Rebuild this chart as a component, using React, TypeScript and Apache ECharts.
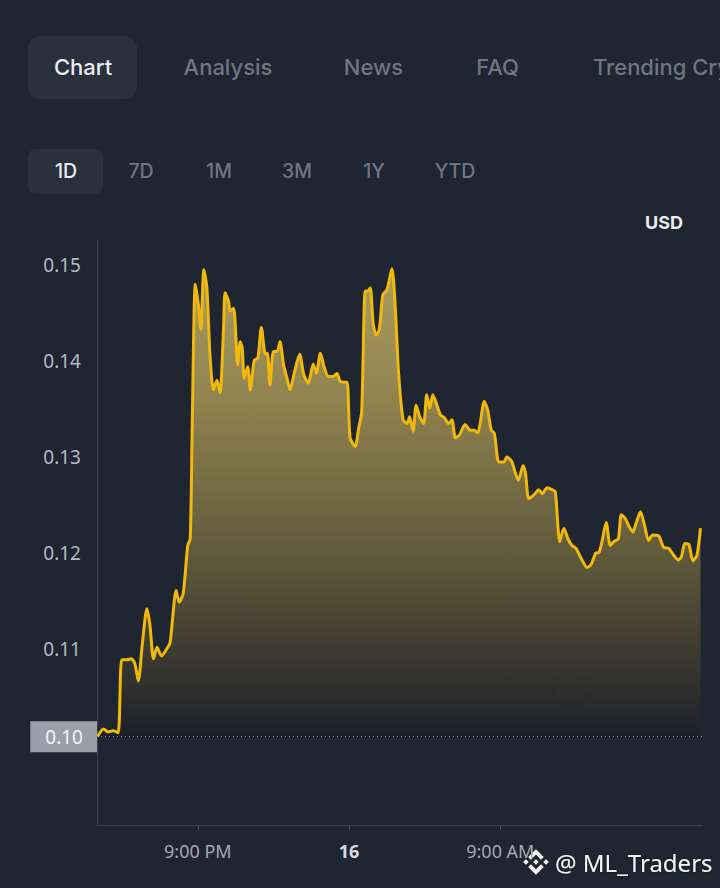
import React, { useEffect, useRef } from "react";
import * as echarts from "echarts";

// ---- data (hours from chart start, price in USD) ----
const times: number[] = [
  0.01, 0.13, 0.22, 0.32, 0.42, 0.49, 0.59, 0.68, 0.75, 0.82, 0.9, 0.99, 1.05, 1.12, 1.19, 1.28, 1.38, 1.45,
  1.57, 1.63, 1.71, 1.8, 1.85, 1.89, 1.95, 2.01, 2.06, 2.12, 2.18, 2.24, 2.31, 2.38, 2.44, 2.51, 2.54, 2.61,
  2.64, 2.71, 2.79, 2.84, 2.88, 2.92, 2.99, 3.04, 3.12, 3.19, 3.26, 3.34, 3.38, 3.43, 3.5, 3.57, 3.63, 3.7,
  3.77, 3.83, 3.91, 4.02, 4.1, 4.19, 4.29, 4.35, 4.43, 4.51, 4.59, 4.68, 4.76, 4.82, 4.89, 4.96, 5.02, 5.12,
  5.19, 5.25, 5.32, 5.37, 5.42, 5.48, 5.54, 5.6, 5.67, 5.75, 5.85, 5.92, 5.98, 6.07, 6.15, 6.2, 6.27, 6.33,
  6.4, 6.48, 6.54, 6.6, 6.66, 6.73, 6.81, 6.89, 6.97, 7.04, 7.11, 7.19, 7.3, 7.4, 7.48, 7.55, 7.6, 7.68,
  7.75, 7.82, 7.88, 7.97, 8.07, 8.13, 8.23, 8.3, 8.36, 8.45, 8.5, 8.56, 8.63, 8.69, 8.76, 8.83, 8.93, 9.03,
  9.09, 9.18, 9.26, 9.34, 9.42, 9.5, 9.62, 9.72, 9.81, 9.89, 9.96, 10.02, 10.1, 10.18, 10.25, 10.34, 10.4,
  10.48, 10.55, 10.63, 10.68, 10.78, 10.86, 10.94, 11.02, 11.14, 11.24, 11.34, 11.41, 11.53, 11.59, 11.66,
  11.74, 11.82, 11.9, 11.97,
];
const prices: number[] = [
  0.1009, 0.1017, 0.1014, 0.1015, 0.1013, 0.1089, 0.1089, 0.109, 0.1085, 0.1067, 0.1106, 0.1142, 0.1125,
  0.109, 0.1102, 0.1093, 0.11, 0.1107, 0.1161, 0.1149, 0.1158, 0.1208, 0.1215, 0.1337, 0.148, 0.1459,
  0.1433, 0.1495, 0.1476, 0.1407, 0.137, 0.138, 0.1367, 0.1434, 0.1471, 0.1462, 0.1452, 0.1455, 0.1396,
  0.142, 0.1414, 0.1382, 0.1394, 0.137, 0.1401, 0.1403, 0.1435, 0.1407, 0.1408, 0.1375, 0.141, 0.141,
  0.142, 0.1396, 0.1382, 0.137, 0.1387, 0.1407, 0.1386, 0.1377, 0.1397, 0.1387, 0.1408, 0.1393, 0.1384,
  0.1384, 0.1387, 0.1379, 0.1378, 0.1378, 0.132, 0.1311, 0.133, 0.1347, 0.1473, 0.1473, 0.1476, 0.1438,
  0.1427, 0.1433, 0.1469, 0.1474, 0.1496, 0.1452, 0.1389, 0.1339, 0.1335, 0.1342, 0.1327, 0.1354, 0.1342,
  0.1335, 0.1365, 0.1351, 0.1365, 0.1356, 0.1344, 0.1341, 0.1335, 0.1339, 0.132, 0.1323, 0.1334, 0.1328,
  0.1328, 0.1325, 0.1335, 0.1358, 0.1349, 0.1328, 0.1325, 0.1295, 0.1295, 0.13, 0.1295, 0.1283, 0.1276,
  0.1291, 0.1283, 0.1257, 0.1259, 0.1262, 0.1266, 0.1262, 0.1268, 0.1266, 0.1264, 0.1212, 0.1226, 0.1215,
  0.1208, 0.1205, 0.1193, 0.1185, 0.1189, 0.12, 0.1201, 0.1213, 0.1232, 0.1208, 0.1212, 0.1215, 0.124,
  0.1236, 0.1228, 0.1222, 0.1229, 0.1243, 0.1229, 0.1213, 0.1219, 0.1218, 0.1206, 0.1205, 0.12, 0.1193,
  0.1196, 0.121, 0.1209, 0.1192, 0.1198, 0.1226,
];
const openPrice = 0.1009;
const openLabel = "0.10";
const yTicks = [0.11, 0.12, 0.13, 0.14, 0.15];
const xTicks = [2, 5, 8];
const xTickLabels = ["9:00 PM", "16", "9:00 AM"];
const mainTabs = ["Chart", "Analysis", "News", "FAQ", "Trending Crypto"];
const periodTabs = ["1D", "7D", "1M", "3M", "1Y", "YTD"];

const BG = "#1f2531";
const BINANCE_LOGO =
  "M38.73 53.2l24.59-24.58 24.6 24.6 14.3-14.31L63.32 0 24.42 38.9zM0 63.31l14.3-14.31 14.31 14.31-14.31 14.3zM38.73 73.41l24.59 24.59 24.6-24.6 14.31 14.29-38.9 38.91-38.91-38.88zM98 63.31l14.3-14.31 14.31 14.3-14.31 14.32zM77.83 63.3L63.32 48.78 52.59 59.51l-1.24 1.23-2.54 2.54 14.51 14.5 14.51-14.47z";

let registered = false;
function registerShapes() {
  if (registered) return;
  registered = true;
  echarts.graphic.registerShape("bnbLogo", echarts.graphic.extendPath(BINANCE_LOGO, {}));
}

export default function App() {
  const ref = useRef<HTMLDivElement>(null);

  useEffect(() => {
    if (!ref.current) return;
    registerShapes();
    const chart = echarts.init(ref.current, undefined, { renderer: "svg" });

    const mainX = [83, 228, 373.5, 497.5, 593];
    const periodX = [66, 141, 219, 297, 374, 455];

    const graphics: any[] = [
      { type: "rect", shape: { x: 28, y: 36, width: 109, height: 63, r: 12 }, style: { fill: "#2a303c" } },
      { type: "rect", shape: { x: 28, y: 149, width: 75, height: 45, r: 8 }, style: { fill: "#2a303c" } },
    ];
    mainTabs.forEach((t, i) => {
      const last = i === mainTabs.length - 1;
      graphics.push({
        type: "text",
        x: mainX[i],
        y: 67,
        style: {
          text: t,
          fill: i === 0 ? "#eaecef" : "#6f7581",
          font: "500 22px Inter, 'Noto Sans', sans-serif",
          textAlign: last ? "left" : "center",
          align: last ? "left" : "center",
          textVerticalAlign: "middle",
          verticalAlign: "middle",
        },
      });
    });
    periodTabs.forEach((t, i) => {
      graphics.push({
        type: "text",
        x: periodX[i],
        y: 171,
        style: {
          text: t,
          fill: i === 0 ? "#eaecef" : "#6f7581",
          font: "500 19.5px Inter, 'Noto Sans', sans-serif",
          textAlign: "center",
          align: "center",
          textVerticalAlign: "middle",
          verticalAlign: "middle",
        },
      });
    });
    graphics.push({
      type: "text",
      x: 664,
      y: 222,
      style: {
        text: "USD",
        fill: "#eaecef",
        font: "bold 18px Inter, 'Noto Sans', sans-serif",
        textAlign: "center",
        align: "center",
        textVerticalAlign: "middle",
        verticalAlign: "middle",
      },
    });
    // faint watermark ring
    graphics.push({
      type: "circle",
      shape: { cx: 570, cy: 690, r: 17 },
      style: { fill: "none", stroke: "rgba(0,0,0,0.16)", lineWidth: 2 },
    });
    // author watermark
    graphics.push({
      type: "bnbLogo",
      x: 523,
      y: 849,
      scaleX: 0.205,
      scaleY: 0.205,
      style: { fill: "#f2f2f2", stroke: "rgba(0,0,0,0.45)", lineWidth: 3 },
    });
    graphics.push({
      type: "text",
      x: 555,
      y: 862,
      style: {
        text: "@ ML_Traders",
        fill: "#f2f2f2",
        font: "24px 'Noto Sans', sans-serif",
        textAlign: "left",
        align: "left",
        textVerticalAlign: "middle",
        verticalAlign: "middle",
        textShadowColor: "rgba(0,0,0,0.6)",
        textShadowBlur: 2,
      },
    });

    const data = times.map((t, i) => [t, prices[i]]);

    chart.setOption({
      animation: false,
      backgroundColor: BG,
      grid: { left: 97, right: 18, top: 240, bottom: 63 },
      xAxis: {
        type: "value",
        min: 0,
        max: 12,
        splitLine: { show: false },
        axisLine: { show: true, lineStyle: { color: "#3a404d", width: 1 } },
        axisTick: { show: true, customValues: xTicks, length: 5, lineStyle: { color: "#4a505c" } },
        axisLabel: {
          customValues: xTicks,
          margin: 17,
          color: "#a4a9b2",
          fontSize: 18,
          fontFamily: "'Noto Sans', sans-serif",
          formatter: (v: number) => {
            const idx = xTicks.indexOf(Math.round(v));
            const s = idx >= 0 ? xTickLabels[idx] : "";
            return s === "16" ? "{b|16}" : s;
          },
          rich: {
            b: { fontWeight: "bold", color: "#d7dae0", fontSize: 18, fontFamily: "'Noto Sans', sans-serif" },
          },
        },
      },
      yAxis: {
        type: "value",
        min: 0.0917,
        max: 0.1526,
        splitLine: { show: false },
        axisLine: { show: true, lineStyle: { color: "#3a404d", width: 1 } },
        axisTick: { show: false },
        axisLabel: {
          customValues: yTicks,
          margin: 16,
          color: "#b4b9c2",
          fontSize: 19,
          fontFamily: "'Noto Sans', sans-serif",
          formatter: (v: number) => v.toFixed(2),
        },
      },
      graphic: graphics,
      series: [
        {
          type: "line",
          data,
          showSymbol: false,
          symbol: "none",
          smooth: 0.25,
          lineStyle: { color: "#f0b90b", width: 3 },
          areaStyle: {
            origin: openPrice,
            color: new echarts.graphic.LinearGradient(0, 0, 0, 1, [
              { offset: 0, color: "rgb(230,207,114)" },
              { offset: 0.28, color: "rgb(192,170,92)" },
              { offset: 0.63, color: "rgb(120,108,62)" },
              { offset: 1, color: "rgb(28,30,36)" },
            ]),
          },
          markLine: {
            silent: true,
            precision: 4,
            symbol: ["none", "none"],
            data: [{ yAxis: openPrice }],
            lineStyle: { color: "#7d838e", type: [1, 3], width: 1 },
            label: {
              position: "start",
              distance: 0,
              formatter: openLabel,
              color: "#f4f5f7",
              fontSize: 19,
              fontFamily: "'Noto Sans', sans-serif",
              backgroundColor: "#9aa0aa",
              padding: [6, 14, 6, 15],
            },
          },
        },
      ],
    });

    return () => chart.dispose();
  }, []);

  return (
    <div
      ref={ref}
      style={{ position: "absolute", left: 0, top: 0, width: 720, height: 888, background: BG }}
    />
  );
}
